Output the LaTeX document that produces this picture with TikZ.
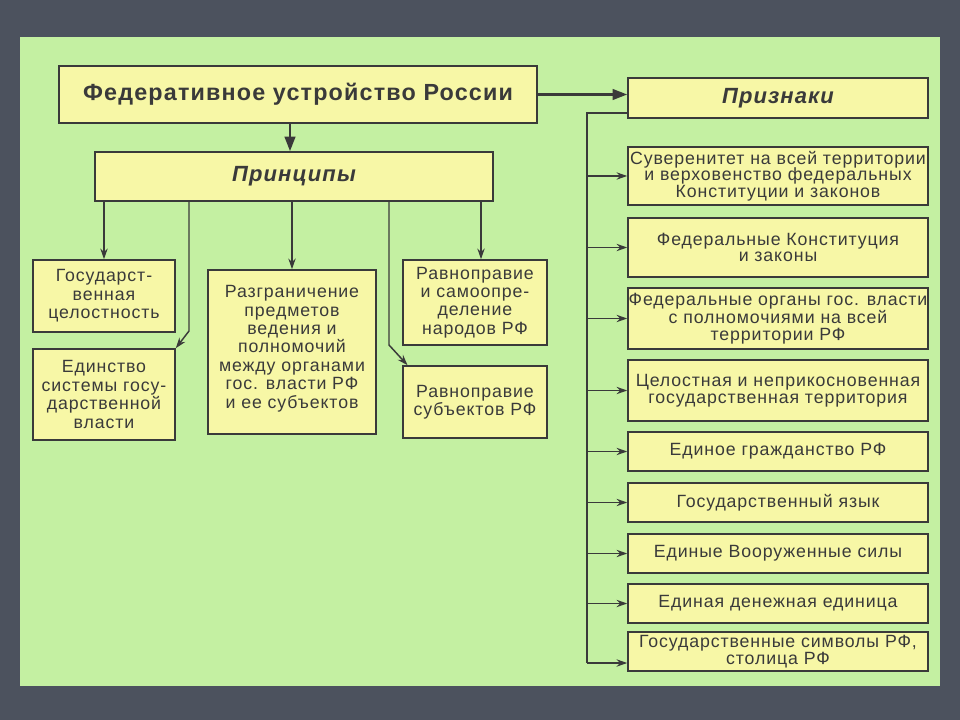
\documentclass[tikz,border=0pt]{standalone}
\usepackage{fontspec}
\setmainfont{Liberation Sans}
\usetikzlibrary{fit,arrows.meta}
\definecolor{bg}{HTML}{4C525E}
\definecolor{panel}{HTML}{C4F0A2}
\definecolor{boxfill}{HTML}{F7F7A6}
\definecolor{ink}{HTML}{3A3A3A}
\newfontfamily\bodyf[LetterSpace=5]{Liberation Sans}
\newfontfamily\headf[LetterSpace=5]{Liberation Sans}
\tikzset{
  box/.style={draw=ink, line width=1.2pt, fill=boxfill, inner sep=0pt},
  bigbox/.style={box, line width=2pt},
  txt/.style={align=center, text=ink, inner sep=0pt, font=\bodyf\fontsize{13.3}{12.4}\selectfont},
  ltxt/.style={txt, font=\bodyf\fontsize{13.3}{13.8}\selectfont},
  bigtxt/.style={txt, font=\headf\bfseries\fontsize{17.5}{18}\selectfont},
  htxt/.style={txt, font=\headf\bfseries\itshape\fontsize{16.5}{17}\selectfont},
  ln/.style={draw=ink, line width=1.1pt},
  arr/.style={ln, -{Stealth[length=8pt,width=5.5pt]}},
  bigarr/.style={draw=ink, line width=1.8pt, -{Triangle[length=11pt,width=8pt]}}
}
\newcommand{\mybox}[4][txt]{%
  \node[box, fit={#3}] (#2) {};
  \node[#1] at (#2.center) {#4};}
\begin{document}
\begin{tikzpicture}[x=0.75pt,y=-0.75pt]
\fill[bg] (0,0) rectangle (960,720);
\fill[panel] (20,37) rectangle (940,686);
\node[bigbox, fit={(59,66)(537,123)}] (fed) {};
\node[bigtxt] at (fed.center) {Федеративное устройство России};
\node[box, fit={(95,152)(493,201)}] (pr) {};
\node[htxt] at (pr.center) {Принципы};
\node[box, fit={(628,78)(928,118)}] (priz) {};
\node[htxt] at (priz.center) {Признаки};
% principles
\mybox[ltxt]{g1}{(33,260)(175,332)}{Государст-\\венная\\целостность}
\mybox[ltxt]{g2}{(33,349)(175,440)}{Единство\\системы госу-\\дарственной\\власти}
\node[box, fit={(208,270)(376,434)}] (g3) {};
\node[ltxt, anchor=north] at ([yshift=-12pt]g3.north) {Разграничение\\предметов\\ведения и\\полномочий\\между органами\\гос. власти РФ\\и ее субъектов};
\mybox[ltxt]{g4}{(403,260)(547,345)}{Равноправие\\и самоопре-\\деление\\народов РФ}
\mybox[ltxt]{g5}{(403,366)(547,438)}{Равноправие\\субъектов РФ}
% signs
\mybox{p1}{(628,147)(928,205)}{Суверенитет на всей территории\\и верховенство федеральных\\Конституции и законов}
\mybox{p2}{(628,218)(928,277)}{Федеральные Конституция\\и законы}
\mybox{p3}{(628,288)(928,349)}{Федеральные органы гос. власти\\с полномочиями на всей\\территории РФ}
\mybox{p4}{(628,360)(928,421)}{Целостная и неприкосновенная\\государственная территория}
\mybox{p5}{(628,432)(928,471)}{Единое гражданство РФ}
\mybox{p6}{(628,483)(928,522)}{Государственный язык}
\mybox{p7}{(628,534)(928,573)}{Единые Вооруженные силы}
\mybox{p8}{(628,584)(928,623)}{Единая денежная единица}
\mybox{p9}{(628,632)(928,671)}{Государственные символы РФ,\\столица РФ}
% big arrows
\draw[bigarr] (fed.south -| 290,0) -- (pr.north -| 290,0);
\draw[bigarr] (fed.east) -- (fed.east -| priz.west);
% principle arrows
\coordinate (b2) at (189,201);
\coordinate (k2) at (189,331);
\coordinate (b4) at (389,201);
\coordinate (k4) at (389,345);
\draw[arr] (g1.north |- pr.south) -- (g1.north);
\draw[arr] (b2) -- (k2) -- (g2.north east);
\draw[arr] (g3.north |- pr.south) -- (g3.north);
\draw[arr] (b4) -- (k4) -- ([xshift=4pt]g5.north west);
\draw[arr] (pr.south -| 481,0) -- (g4.north -| 481,0);
% signs spine
\coordinate (vtop) at (587,113);
\coordinate (vbot) at (587,663);
\draw[ln] (vtop -| priz.west) -- (vtop) -- (vbot);
\foreach \n in {p1,p2,p3,p4,p5,p6,p7,p8}
  \draw[arr] (vtop |- \n.west) -- (\n.west);
\draw[arr] (vbot) -- (vbot -| p9.west);
\end{tikzpicture}
\end{document}
